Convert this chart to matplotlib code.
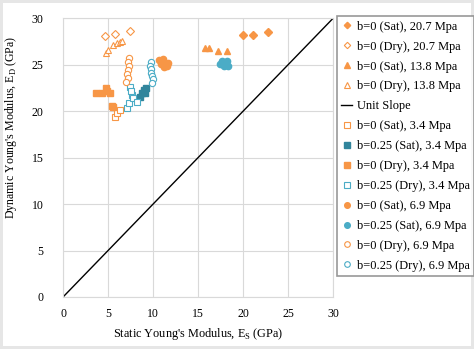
import matplotlib.pyplot as plt

plt.rcParams['font.family'] = ['Liberation Serif', 'DejaVu Serif']
plt.rcParams['mathtext.fontset'] = 'custom'
plt.rcParams['mathtext.rm'] = 'Liberation Serif'

orange = '#F79646'
teal = '#4BACC6'
dark_teal = '#31859C'

# b=0 (Sat), 20.7 Mpa
sat207_x = [20.0, 21.1, 22.8]
sat207_y = [28.2, 28.2, 28.5]
# b=0 (Dry), 20.7 Mpa
dry207_x = [4.7, 5.8, 7.4]
dry207_y = [28.1, 28.3, 28.6]
# b=0 (Sat), 13.8 Mpa
sat138_x = [15.8, 16.2, 17.2, 18.2]
sat138_y = [26.8, 26.8, 26.5, 26.5]
# b=0 (Dry), 13.8 Mpa
dry138_x = [4.8, 5.0, 5.6, 6.0, 6.3, 6.6]
dry138_y = [26.2, 26.6, 27.1, 27.3, 27.4, 27.5]
# b=0 (Sat), 3.4 Mpa
sat34_x = [5.8, 6.0, 6.3]
sat34_y = [19.4, 19.8, 20.1]
# b=0.25 (Sat), 3.4 Mpa
sat34b_x = [8.6, 8.8, 9.0, 9.1, 9.2]
sat34b_y = [21.5, 21.9, 22.3, 21.9, 22.5]
# b=0 (Dry), 3.4 Mpa
dry34_x = [3.7, 4.3, 4.8, 4.9, 5.2, 5.4, 5.6]
dry34_y = [21.9, 22.0, 22.5, 22.2, 21.9, 20.5, 20.4]
# b=0.25 (Dry), 3.4 Mpa
dry34b_x = [7.1, 7.3, 7.4, 7.7, 7.8, 8.2, 7.6]
dry34b_y = [20.3, 20.9, 22.6, 21.7, 21.4, 21.0, 22.2]
# b=0 (Sat), 6.9 Mpa
sat69_x = [10.7, 10.9, 11.1, 11.3, 11.5, 11.2, 11.6]
sat69_y = [25.5, 25.1, 25.6, 25.2, 24.9, 24.7, 25.2]
# b=0.25 (Sat), 6.9 Mpa
sat69b_x = [17.4, 17.7, 18.0, 18.2, 18.3, 17.9]
sat69b_y = [25.1, 25.4, 25.2, 25.4, 24.8, 24.9]
# b=0 (Dry), 6.9 Mpa
dry69_x = [7.3, 7.2, 7.3, 7.2, 7.1, 7.2, 7.0]
dry69_y = [25.7, 25.3, 24.9, 24.4, 24.0, 23.6, 23.1]
# b=0.25 (Dry), 6.9 Mpa
dry69b_x = [9.8, 9.7, 9.8, 9.8, 9.9, 10.0, 9.9]
dry69b_y = [25.3, 24.9, 24.5, 24.1, 23.8, 23.4, 23.0]

unit_x = [0, 30]
unit_y = [0, 30]

fig = plt.figure(figsize=(4.74, 3.49), dpi=100)
ax = fig.add_axes([0.133, 0.149, 0.570, 0.799])

ms = 4.2
hollow = dict(mfc='white', mew=0.8, ls='none')
ax.plot(sat207_x, sat207_y, 'D', color=orange, ms=ms - 0.6, ls='none', label='b=0 (Sat), 20.7 Mpa')
ax.plot(dry207_x, dry207_y, 'D', mec=orange, ms=ms - 0.6, label='b=0 (Dry), 20.7 Mpa', **hollow)
ax.plot(sat138_x, sat138_y, '^', color=orange, ms=ms + 0.4, ls='none', label='b=0 (Sat), 13.8 Mpa')
ax.plot(dry138_x, dry138_y, '^', mec=orange, ms=ms + 0.4, label='b=0 (Dry), 13.8 Mpa', **hollow)
ax.plot(unit_x, unit_y, '-', color='black', lw=1.0, label='Unit Slope')
ax.plot(sat34_x, sat34_y, 's', mec=orange, ms=ms, label='b=0 (Sat), 3.4 Mpa', **hollow)
ax.plot(sat34b_x, sat34b_y, 's', color=dark_teal, ms=ms, ls='none', label='b=0.25 (Sat), 3.4 Mpa')
ax.plot(dry34_x, dry34_y, 's', color=orange, ms=ms, ls='none', label='b=0 (Dry), 3.4 Mpa')
ax.plot(dry34b_x, dry34b_y, 's', mec=teal, ms=ms, label='b=0.25 (Dry), 3.4 Mpa', **hollow)
ax.plot(sat69_x, sat69_y, 'o', color=orange, ms=ms + 0.3, ls='none', label='b=0 (Sat), 6.9 Mpa')
ax.plot(sat69b_x, sat69b_y, 'o', color=teal, ms=ms + 0.3, ls='none', label='b=0.25 (Sat), 6.9 Mpa')
ax.plot(dry69_x, dry69_y, 'o', mec=orange, ms=ms + 0.3, label='b=0 (Dry), 6.9 Mpa', **hollow)
ax.plot(dry69b_x, dry69b_y, 'o', mec=teal, ms=ms + 0.3, label='b=0.25 (Dry), 6.9 Mpa', **hollow)

ax.set_xlim(0, 30)
ax.set_ylim(0, 30)
ax.set_xticks(range(0, 31, 5))
ax.set_yticks(range(0, 31, 5))
ax.grid(color='#D9D9D9', lw=0.8)
ax.set_axisbelow(True)
for s in ax.spines.values():
    s.set_color('#D9D9D9')
    s.set_linewidth(0.8)
ax.tick_params(axis='x', length=0, labelsize=8.5, pad=8)
ax.tick_params(axis='y', length=0, labelsize=8.5, pad=14)
ax.set_xlabel('Static Young\'s Modulus, E$_{\\mathrm{S}}$ (GPa)', fontsize=8.8, labelpad=4)
ax.set_ylabel('Dynamic Young\'s Modulus, E$_{\\mathrm{D}}$ (GPa)', fontsize=8.6)
ax.yaxis.set_label_coords(-0.163, 0.61)

leg = ax.legend(loc='upper left', bbox_to_anchor=(1.005, 1.015), fontsize=8.9,
                frameon=True, fancybox=False, edgecolor='#7F7F7F',
                handlelength=0.9, handletextpad=0.35, labelspacing=0.64,
                borderpad=0.35, borderaxespad=0.2, markerscale=0.9)
leg.get_frame().set_linewidth(1.2)

fig.patch.set_edgecolor('#E6E6E6')
fig.patch.set_linewidth(3)
fig.savefig('out.png', dpi=100, edgecolor=fig.get_edgecolor())
